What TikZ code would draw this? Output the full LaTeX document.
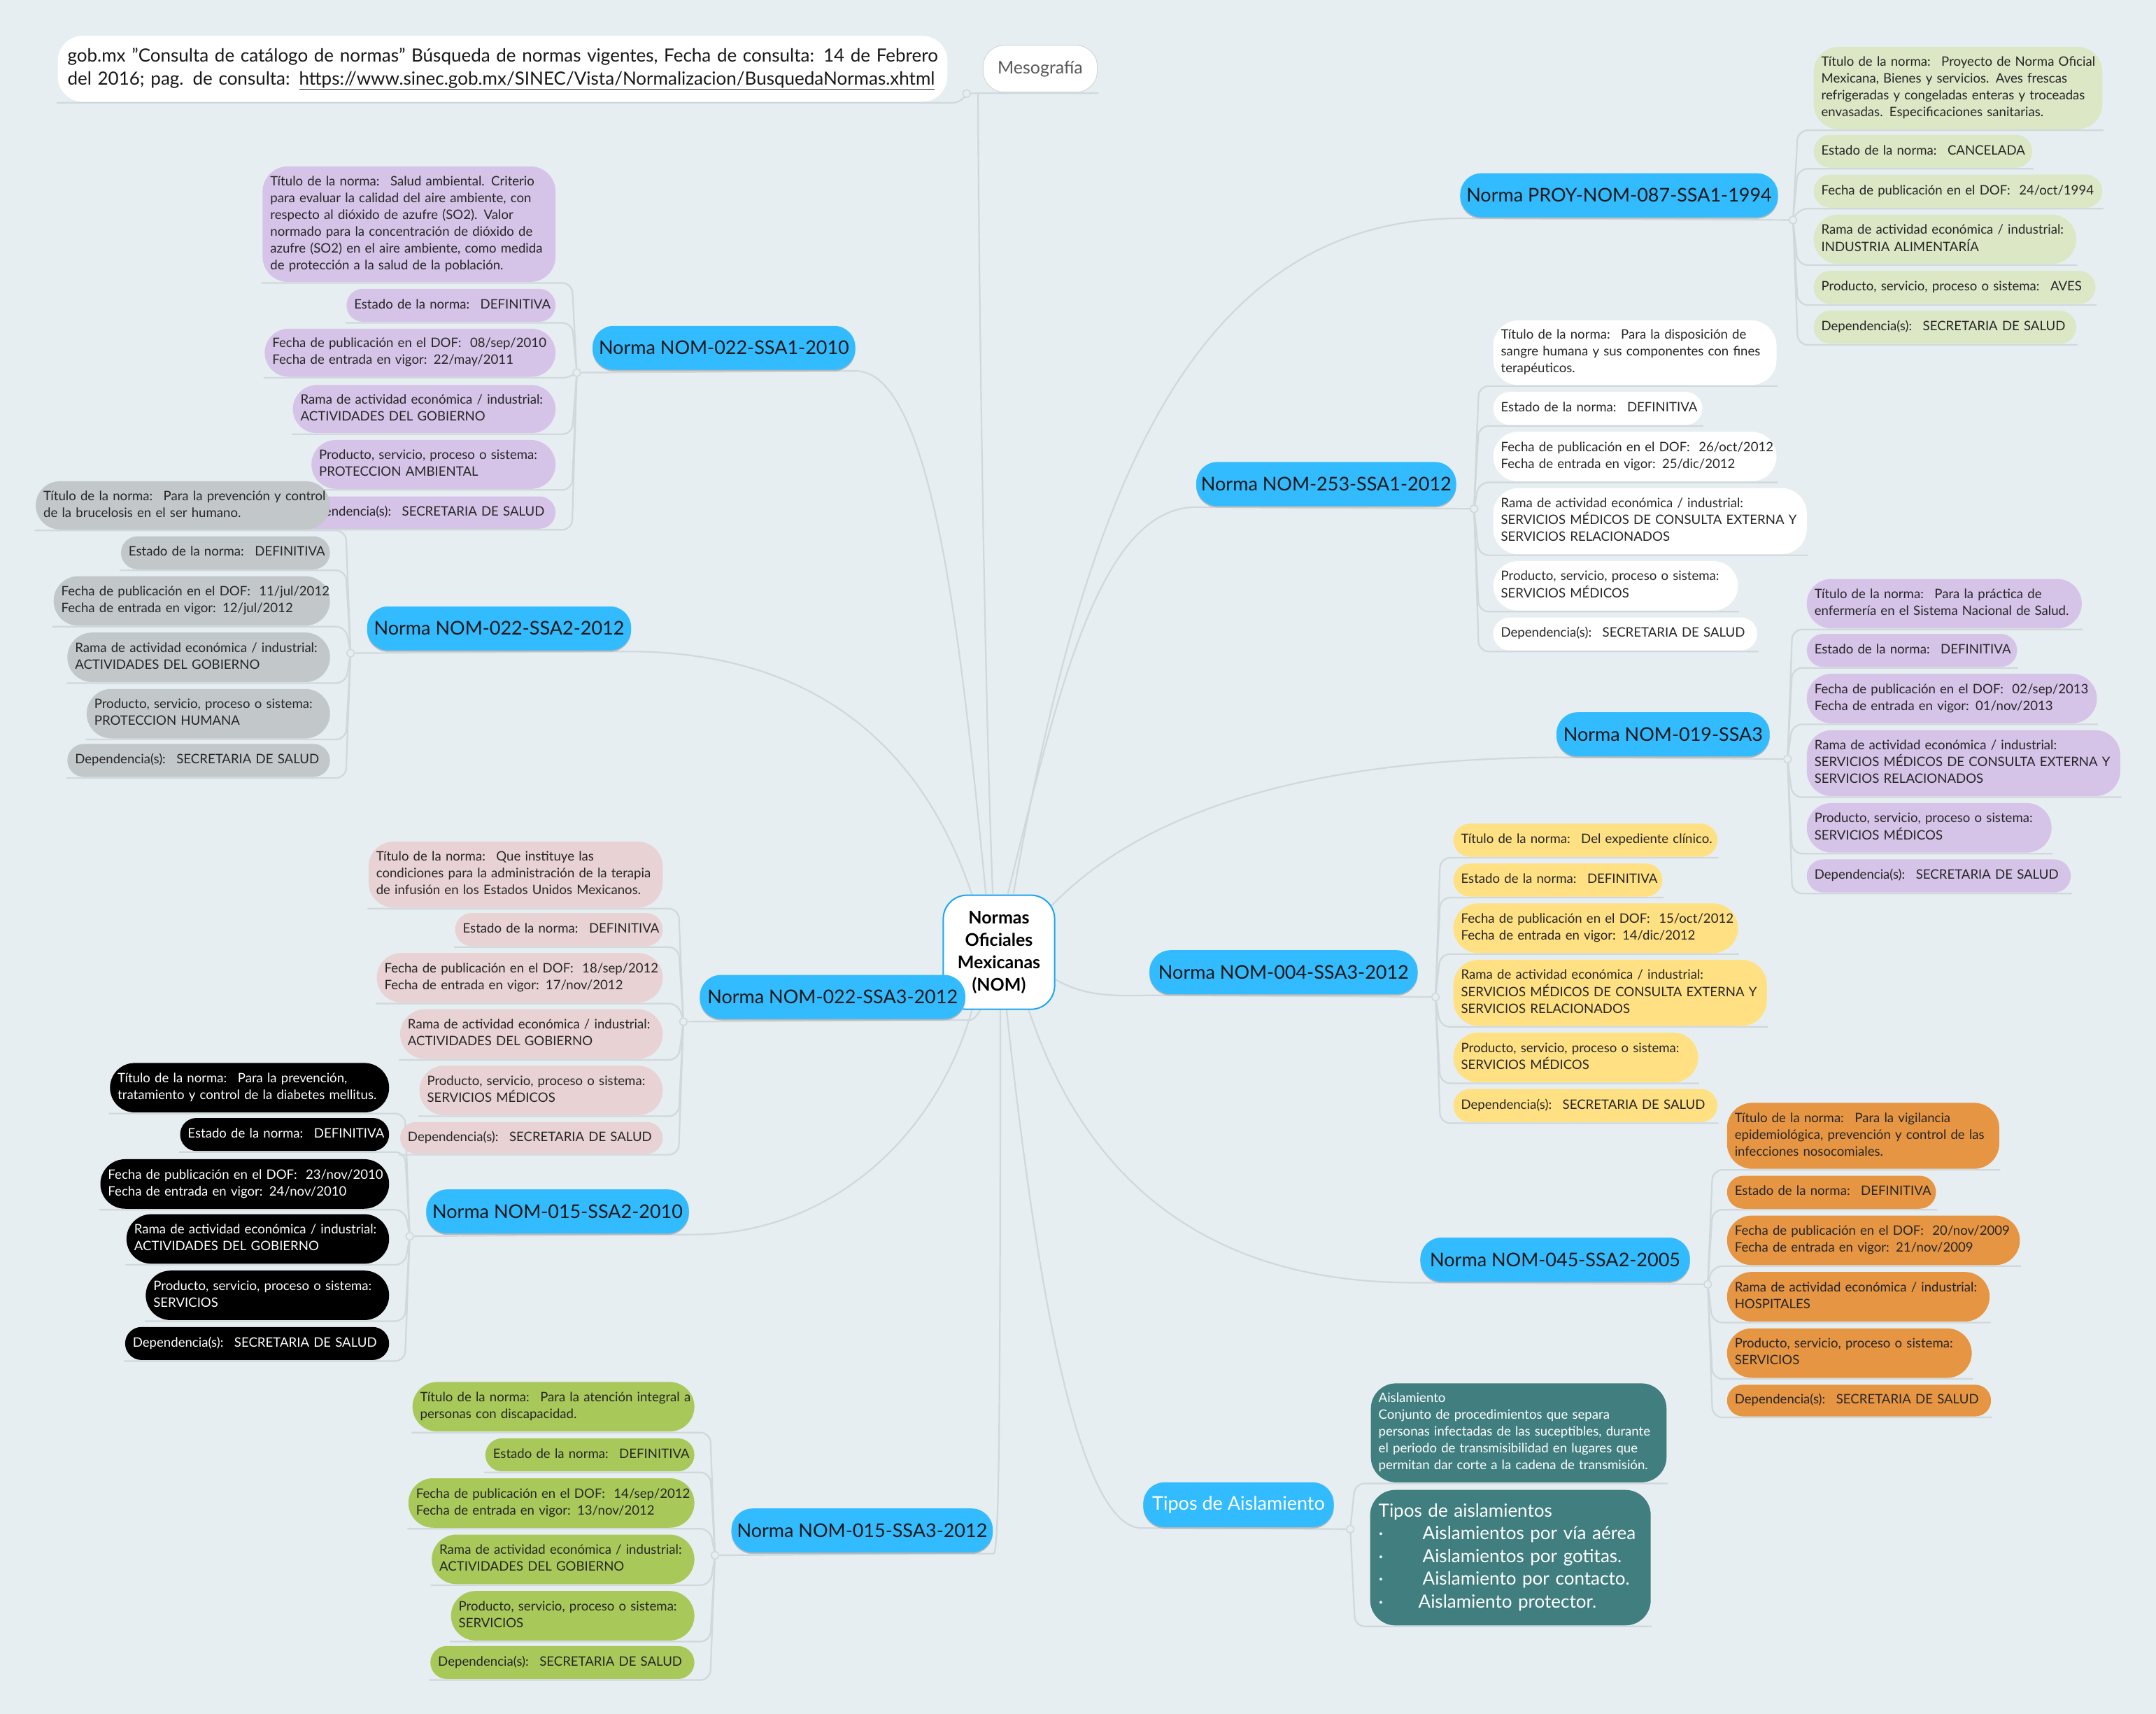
\documentclass[tikz,border=0pt]{standalone}
\usepackage{fontspec}
\setmainfont{Lato}
\usetikzlibrary{shadows,calc}
\pgfdeclarelayer{bglayer}
\pgfsetlayers{bglayer,main}
\definecolor{bgc}{HTML}{E6EEF1}
\definecolor{linec}{HTML}{D0D8DB}
\definecolor{blue}{HTML}{33BBFF}
\definecolor{rootb}{HTML}{1AA7F0}
\definecolor{cpale}{HTML}{DCE7C6}
\definecolor{cviolet}{HTML}{D5C3E8}
\definecolor{cyellow}{HTML}{FFE082}
\definecolor{corange}{HTML}{E69543}
\definecolor{cteal}{HTML}{417E80}
\definecolor{cgray}{HTML}{C2C7CA}
\definecolor{cpink}{HTML}{E8D2D3}
\definecolor{cgreen}{HTML}{A8C95A}
\definecolor{cpurple}{HTML}{5E4B7E}
\tikzset{
  leafbox/.style={inner xsep=11pt,inner ysep=0pt,outer sep=1.5pt,text=black!85,font=\fontsize{18.6}{24}\selectfont},
  mainbox/.style={inner sep=0pt,outer sep=1.5pt,align=center,text=black!90,fill=blue,font=\fontsize{27}{32}\selectfont,
    general shadow={fill=linec!85!black,shadow yshift=-2pt}},
  hubnode/.style={circle,draw=linec,line width=1.6pt,fill=bgc,minimum size=11pt,inner sep=0pt},
  conn/.style={draw=linec,line width=2.2pt},
}
\newcommand\Tb[1]{\begin{tabular}{@{}l@{}}#1\end{tabular}}
\newcommand\leaf[7]{%
  \pgfmathsetlengthmacro\boxw{(#4-#2)*1.9656}%
  \pgfmathsetlengthmacro\boxh{(#5-#3)*1.9656}%
  \pgfmathsetlengthmacro\boxr{min(\boxh/2,36pt)}%
  \pgfmathsetlengthmacro\boxt{\boxw-22pt}%
  \node[leafbox,fill=#6,minimum width=\boxw,minimum height=\boxh,text width=\boxt,rounded corners=\boxr] (#1) at ({(#2+#4)/2},{(#3+#5)/2}) {\Tb{#7}};%
}
\newcommand\mainn[6]{%
  \pgfmathsetlengthmacro\boxw{(#4-#2)*1.9656}%
  \pgfmathsetlengthmacro\boxh{(#5-#3)*1.9656}%
  \node[mainbox,minimum width=\boxw,minimum height=\boxh,rounded corners=30pt] (#1) at ({(#2+#4)/2},{(#3+#5)/2}) {#6};%
}
\newcommand\hubat[3]{\node[hubnode] (#1) at (#2,#3) {};}
\newcommand\twigL[2]{\draw[conn,rounded corners=14pt] (#1.south west) -- (#1.south east -| #2t) -- (#2);}
\newcommand\twigR[2]{\draw[conn,rounded corners=14pt] (#1.south east) -- (#1.south west -| #2t) -- (#2);}
\begin{document}
\begin{tikzpicture}[x=1.9656pt,y=-1.9656pt]
\useasboundingbox (0,0) rectangle (1568,1246.43);
\begin{pgfonlayer}{bglayer}
\fill[bgc] (0,0) rectangle (1568,1246.43);
\end{pgfonlayer}
% root
\pgfmathsetlengthmacro\boxw{81*1.9656}
\pgfmathsetlengthmacro\boxh{83*1.9656}
\node[draw=rootb,line width=2pt,fill=white,rounded corners=34pt,minimum width=\boxw,minimum height=\boxh,align=center,inner sep=0pt,
  font=\fontsize{25}{32}\selectfont\bfseries,text=black] (root) at (726.5,692.5) {Normas\\Oficiales\\Mexicanas\\(NOM)};
\coordinate (rMes) at (722,650);
\coordinate (rN1) at (717,650);
\coordinate (rL2) at (707,651);
\coordinate (rR2) at (733,650);
\coordinate (rR1) at (737,650);
\coordinate (rR3) at (763.5,660);
\coordinate (rR4) at (767,712);
\coordinate (rL3) at (713,734);
\coordinate (rL4) at (707,734);
\coordinate (rL5) at (727.5,734);
\coordinate (rR6) at (732,734);
\coordinate (rR5) at (748,734);
% Mesografia
\pgfmathsetlengthmacro\boxw{83*1.9656}
\pgfmathsetlengthmacro\boxh{34*1.9656}
\node[fill=white,draw=linec,line width=1pt,rounded corners=30pt,minimum width=\boxw,minimum height=\boxh,inner sep=0pt,outer sep=1.5pt,text=black!65,font=\fontsize{25}{30}\selectfont] (mes) at (756.5,50) {Mesografía};
\pgfmathsetlengthmacro\boxw{647*1.9656}
\pgfmathsetlengthmacro\boxh{48*1.9656}
\pgfmathsetlengthmacro\boxt{\boxw-28pt}
\node[fill=white,rounded corners=36pt,minimum width=\boxw,minimum height=\boxh,text width=\boxt,inner xsep=14pt,inner ysep=0pt,outer sep=1.5pt,text=black!90,font=\fontsize{26}{33}\selectfont] (note) at (365.5,50) {\Tb{gob.mx "Consulta de catálogo de normas" Búsqueda de normas vigentes, Fecha de consulta: 14 de Febrero\\del 2016; pag. de consulta: \underline{https://www.sinec.gob.mx/SINEC/Vista/Normalizacion/BusquedaNormas.xhtml}}};
\hubat{hm}{703}{68}
\coordinate (hmt) at (700,68);
% N1
\leaf{na}{191}{121}{404}{205}{cviolet}{Título de la norma:~ Salud ambiental. Criterio\\para evaluar la calidad del aire ambiente, con\\respecto al dióxido de azufre (SO2). Valor\\normado para la concentración de dióxido de\\azufre (SO2) en el aire ambiente, como medida\\de protección a la salud de la población.}
\leaf{nb}{252}{210}{404}{234}{cviolet}{Estado de la norma:~ DEFINITIVA}
\leaf{nc}{192.5}{239}{404}{274}{cviolet}{Fecha de publicación en el DOF:~ 08/sep/2010\\Fecha de entrada en vigor: 22/may/2011}
\leaf{nd}{213}{280}{404}{315}{cviolet}{Rama de actividad económica / industrial:\\ACTIVIDADES DEL GOBIERNO}
\leaf{ne}{226.5}{320}{404}{355.5}{cviolet}{Producto, servicio, proceso o sistema:\\PROTECCION AMBIENTAL}
\leaf{nf}{213}{361}{404}{384.5}{cviolet}{Dependencia(s):~ SECRETARIA DE SALUD}
\hubat{hn}{419.5}{271}
\coordinate (hnt) at (416,271);
\mainn{Bn}{431}{237}{622}{269}{Norma NOM-022-SSA1-2010}
% L2
\leaf{ga}{26}{350}{240}{385}{cgray}{Título de la norma:~ Para la prevención y control\\de la brucelosis en el ser humano.}
\leaf{gb}{88}{390}{240}{414}{cgray}{Estado de la norma:~ DEFINITIVA}
\leaf{gc}{39}{419}{240}{455}{cgray}{Fecha de publicación en el DOF:~ 11/jul/2012\\Fecha de entrada en vigor: 12/jul/2012}
\leaf{gd}{49}{460}{240}{496}{cgray}{Rama de actividad económica / industrial:\\ACTIVIDADES DEL GOBIERNO}
\leaf{ge}{63}{501}{240}{537}{cgray}{Producto, servicio, proceso o sistema:\\PROTECCION HUMANA}
\leaf{gf}{49}{541}{240}{565}{cgray}{Dependencia(s):~ SECRETARIA DE SALUD}
\hubat{hg}{255}{475}
\coordinate (hgt) at (251.5,475);
\mainn{Bg}{267}{441}{459}{473}{Norma NOM-022-SSA2-2012}
% L3
\leaf{pa}{268}{612}{482}{660}{cpink}{Título de la norma:~ Que instituye las\\condiciones para la administración de la terapia\\de infusión en los Estados Unidos Mexicanos.}
\leaf{pb}{331}{664}{482}{688}{cpink}{Estado de la norma:~ DEFINITIVA}
\leaf{pc}{274}{693}{482}{729}{cpink}{Fecha de publicación en el DOF:~ 18/sep/2012\\Fecha de entrada en vigor: 17/nov/2012}
\leaf{pd}{291}{734}{482}{770}{cpink}{Rama de actividad económica / industrial:\\ACTIVIDADES DEL GOBIERNO}
\leaf{pe}{305}{775}{482}{811}{cpink}{Producto, servicio, proceso o sistema:\\SERVICIOS MÉDICOS}
\leaf{pf}{291}{816}{482}{839}{cpink}{Dependencia(s):~ SECRETARIA DE SALUD}
\hubat{hp}{497}{743}
\coordinate (hpt) at (493.5,743);
\mainn{Bp}{509}{709}{702}{741}{Norma NOM-022-SSA3-2012}
% L4
\tikzset{leafbox/.append style={text=white}}
\leaf{ka}{80}{773}{283}{809}{black}{Título de la norma:~ Para la prevención,\\tratamiento y control de la diabetes mellitus.}
\leaf{kb}{131}{813}{283}{837}{black}{Estado de la norma:~ DEFINITIVA}
\leaf{kc}{73}{843}{283}{879}{black}{Fecha de publicación en el DOF:~ 23/nov/2010\\Fecha de entrada en vigor: 24/nov/2010}
\leaf{kd}{92}{883}{283}{919}{black}{Rama de actividad económica / industrial:\\ACTIVIDADES DEL GOBIERNO}
\leaf{ke}{106}{924}{283}{960}{black}{Producto, servicio, proceso o sistema:\\SERVICIOS}
\leaf{kf}{91}{965}{283}{989}{black}{Dependencia(s):~ SECRETARIA DE SALUD}
\tikzset{leafbox/.append style={text=black!85}}
\hubat{hk}{298}{899}
\coordinate (hkt) at (294.5,899);
\mainn{Bk}{310}{865}{501}{897}{Norma NOM-015-SSA2-2010}
% L5
\leaf{la}{300}{1005}{505}{1041}{cgreen}{Título de la norma:~ Para la atención integral a\\personas con discapacidad.}
\leaf{lb}{353}{1046}{505}{1070}{cgreen}{Estado de la norma:~ DEFINITIVA}
\leaf{lc}{297}{1075}{505}{1111}{cgreen}{Fecha de publicación en el DOF:~ 14/sep/2012\\Fecha de entrada en vigor: 13/nov/2012}
\leaf{ld}{314}{1116}{505}{1152}{cgreen}{Rama de actividad económica / industrial:\\ACTIVIDADES DEL GOBIERNO}
\leaf{le}{328}{1157}{505}{1193}{cgreen}{Producto, servicio, proceso o sistema:\\SERVICIOS}
\leaf{lf}{313}{1197}{505}{1221}{cgreen}{Dependencia(s):~ SECRETARIA DE SALUD}
\hubat{hl}{520}{1131}
\coordinate (hlt) at (516.5,1131);
\mainn{Bl}{532}{1097}{722}{1129}{Norma NOM-015-SSA3-2012}
% R1
\leaf{aa}{1319}{34}{1529}{94}{cpale}{Título de la norma:~ Proyecto de Norma Oficial\\Mexicana, Bienes y servicios. Aves frescas\\refrigeradas y congeladas enteras y troceadas\\envasadas. Especificaciones sanitarias.}
\leaf{ab}{1319}{98}{1478}{122}{cpale}{Estado de la norma:~ CANCELADA}
\leaf{ac}{1319}{127}{1529}{151}{cpale}{Fecha de publicación en el DOF:~ 24/oct/1994}
\leaf{ad}{1319}{156}{1510}{192}{cpale}{Rama de actividad económica / industrial:\\INDUSTRIA ALIMENTARÍA}
\leaf{ae}{1319}{197}{1524}{221}{cpale}{Producto, servicio, proceso o sistema:~ AVES}
\leaf{af}{1319}{226}{1510}{250}{cpale}{Dependencia(s):~ SECRETARIA DE SALUD}
\hubat{ha}{1304}{160}
\coordinate (hat) at (1307.5,160);
\mainn{Ba}{1062}{126}{1293}{158}{Norma PROY-NOM-087-SSA1-1994}
% R2
\leaf{ba}{1086}{233}{1292}{280}{white}{Título de la norma:~ Para la disposición de\\sangre humana y sus componentes con fines\\terapéuticos.}
\leaf{bb}{1086}{285}{1238}{309}{white}{Estado de la norma:~ DEFINITIVA}
\leaf{bc}{1086}{314}{1292}{350}{white}{Fecha de publicación en el DOF:~ 26/oct/2012\\Fecha de entrada en vigor: 25/dic/2012}
\leaf{bd}{1086}{355}{1314}{403}{white}{Rama de actividad económica / industrial:\\SERVICIOS MÉDICOS DE CONSULTA EXTERNA Y\\SERVICIOS RELACIONADOS}
\leaf{be}{1086}{408}{1264}{444}{white}{Producto, servicio, proceso o sistema:\\SERVICIOS MÉDICOS}
\leaf{bf}{1086}{449}{1278}{473}{white}{Dependencia(s):~ SECRETARIA DE SALUD}
\hubat{hb}{1072}{370}
\coordinate (hbt) at (1075.5,370);
\mainn{Bb}{870}{336}{1059}{368}{Norma NOM-253-SSA1-2012}
% R3
\leaf{ca}{1314}{421}{1514}{457}{cviolet}{Título de la norma:~ Para la práctica de\\enfermería en el Sistema Nacional de Salud.}
\leaf{cb}{1314}{461}{1467}{485}{cviolet}{Estado de la norma:~ DEFINITIVA}
\leaf{cc}{1314}{490}{1525}{526}{cviolet}{Fecha de publicación en el DOF:~ 02/sep/2013\\Fecha de entrada en vigor: 01/nov/2013}
\leaf{cd}{1314}{531}{1542}{579}{cviolet}{Rama de actividad económica / industrial:\\SERVICIOS MÉDICOS DE CONSULTA EXTERNA Y\\SERVICIOS RELACIONADOS}
\leaf{ce}{1314}{584}{1492}{620}{cviolet}{Producto, servicio, proceso o sistema:\\SERVICIOS MÉDICOS}
\leaf{cf}{1314}{625}{1506}{649}{cviolet}{Dependencia(s):~ SECRETARIA DE SALUD}
\hubat{hc}{1300}{552}
\coordinate (hct) at (1303.5,552);
\mainn{Bc}{1132}{518}{1287}{550}{Norma NOM-019-SSA3}
% R4
\leaf{da}{1057}{599}{1249}{623}{cyellow}{Título de la norma:~ Del expediente clínico.}
\leaf{db}{1057}{628}{1209}{652}{cyellow}{Estado de la norma:~ DEFINITIVA}
\leaf{dc}{1057}{657}{1264}{693}{cyellow}{Fecha de publicación en el DOF:~ 15/oct/2012\\Fecha de entrada en vigor: 14/dic/2012}
\leaf{dd}{1057}{698}{1285}{746}{cyellow}{Rama de actividad económica / industrial:\\SERVICIOS MÉDICOS DE CONSULTA EXTERNA Y\\SERVICIOS RELACIONADOS}
\leaf{de}{1057}{751}{1235}{787}{cyellow}{Producto, servicio, proceso o sistema:\\SERVICIOS MÉDICOS}
\leaf{df}{1057}{792}{1249}{816}{cyellow}{Dependencia(s):~ SECRETARIA DE SALUD}
\hubat{hd}{1044}{725}
\coordinate (hdt) at (1047.5,725);
\mainn{Bd}{836}{691}{1031}{723}{Norma NOM-004-SSA3-2012}
% R5
\leaf{ea}{1256}{802}{1454}{850}{corange}{Título de la norma:~ Para la vigilancia\\epidemiológica, prevención y control de las\\infecciones nosocomiales.}
\leaf{eb}{1256}{855}{1408}{879}{corange}{Estado de la norma:~ DEFINITIVA}
\leaf{ec}{1256}{884}{1469}{920}{corange}{Fecha de publicación en el DOF:~ 20/nov/2009\\Fecha de entrada en vigor: 21/nov/2009}
\leaf{ed}{1256}{925}{1447}{961}{corange}{Rama de actividad económica / industrial:\\HOSPITALES}
\leaf{ee}{1256}{966}{1434}{1002}{corange}{Producto, servicio, proceso o sistema:\\SERVICIOS}
\leaf{ef}{1256}{1007}{1448}{1030}{corange}{Dependencia(s):~ SECRETARIA DE SALUD}
\hubat{he}{1242}{934}
\coordinate (het) at (1245.5,934);
\mainn{Be}{1033}{900}{1229}{932}{Norma NOM-045-SSA2-2005}
% R6
\tikzset{leafbox/.append style={text=white}}
\leaf{fa}{997}{1006}{1212}{1078}{cteal}{Aislamiento\\Conjunto de procedimientos que separa\\personas infectadas de las suceptibles, durante\\el periodo de transmisibilidad en lugares que\\permitan dar corte a la cadena de transmisión.}
\tikzset{leafbox/.append style={font=\fontsize{26}{32.5}\selectfont,inner xsep=12pt}}
\leaf{fb}{997}{1083.5}{1200}{1182}{cteal}{Tipos de aislamientos\\\makebox[63pt][l]{·}Aislamientos por vía aérea\\\makebox[63pt][l]{·}Aislamientos por gotitas.\\\makebox[63pt][l]{·}Aislamiento por contacto.\\\makebox[57pt][l]{·}Aislamiento protector.}
\hubat{hf}{982}{1112}
\coordinate (hft) at (985.5,1112);
\mainn{Bf}{831.5}{1078}{970}{1110.5}{\textcolor{white}{Tipos de Aislamiento}}
\path (Bf) [fill=cpurple] ;
% connectors
\begin{pgfonlayer}{bglayer}
\foreach \n in {na,nb,nc,nd,ne,nf} {\twigL{\n}{hn}}
\foreach \n in {ga,gb,gc,gd,ge,gf} {\twigL{\n}{hg}}
\foreach \n in {pa,pb,pc,pd,pe,pf} {\twigL{\n}{hp}}
\foreach \n in {ka,kb,kc,kd,ke,kf} {\twigL{\n}{hk}}
\foreach \n in {la,lb,lc,ld,le,lf} {\twigL{\n}{hl}}
\foreach \n in {aa,ab,ac,ad,ae,af} {\twigR{\n}{ha}}
\foreach \n in {ba,bb,bc,bd,be,bf} {\twigR{\n}{hb}}
\foreach \n in {ca,cb,cc,cd,ce,cf} {\twigR{\n}{hc}}
\foreach \n in {da,db,dc,dd,de,df} {\twigR{\n}{hd}}
\foreach \n in {ea,eb,ec,ed,ee,ef} {\twigR{\n}{he}}
\foreach \n in {fa,fb} {\twigR{\n}{hf}}
\twigL{note}{hm}
% main branches
\draw[conn] (hm) -- (mes.south west) -- (mes.south east);
\draw[conn] (mes.south west) ++(-3,0) .. controls (712,220) and (716,500) .. (rMes);
\draw[conn] (hn) -- (Bn.south east) .. controls (680,271) and (700,480) .. (rN1);
\draw[conn] (hg) -- (Bg.south east) .. controls (590,475) and (670,540) .. (rL2);
\draw[conn] (hp) -- (Bp.south east) .. controls (708,743) and (711,738) .. (rL3);
\draw[conn] (hk) -- (Bk.south east) .. controls (600,899) and (680,830) .. (rL4);
\draw[conn] (hl) -- (Bl.south east) .. controls (727,1128) and (727.5,1000) .. (rL5);
\draw[conn] (ha) -- (Ba.south west) .. controls (870,160) and (790,350) .. (rR1);
\draw[conn] (hb) -- (Bb.south west) .. controls (800,370) and (770,500) .. (rR2);
\draw[conn] (hc) -- (Bc.south west) .. controls (950,552) and (830,590) .. (rR3);
\draw[conn] (hd) -- (Bd.south west) .. controls (800,725) and (785,722) .. (rR4);
\draw[conn] (he) -- (Be.south west) .. controls (880,934) and (790,860) .. (rR5);
\draw[conn] (hf) -- (Bf.south west) .. controls (780,1112) and (750,900) .. (rR6);
\end{pgfonlayer}
\end{tikzpicture}
\end{document}
